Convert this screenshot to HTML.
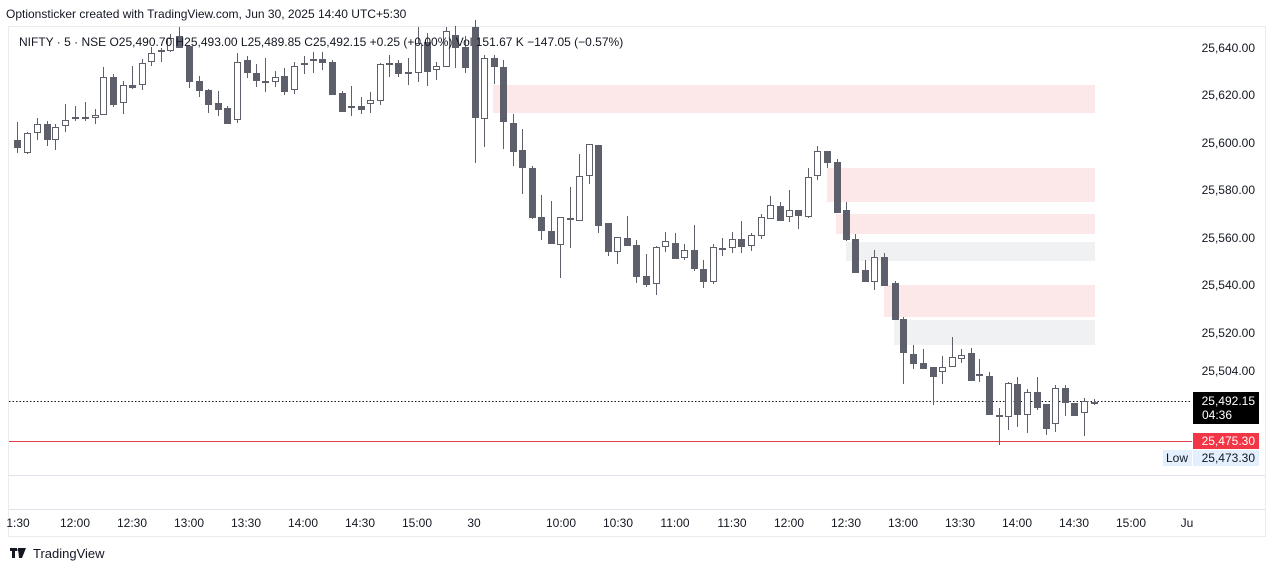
<!DOCTYPE html>
<html><head><meta charset="utf-8"><style>
html,body{margin:0;padding:0;background:#fff;width:1275px;height:572px;overflow:hidden;font-family:"Liberation Sans",sans-serif}
svg{position:absolute;left:0;top:0}
</style></head><body>
<svg id="s" width="1275" height="572" xmlns="http://www.w3.org/2000/svg" font-family="Liberation Sans, sans-serif">
<rect x="8.5" y="26.5" width="1257" height="510" fill="none" stroke="#ebebeb"/>
<line x1="9" y1="475.5" x2="1265" y2="475.5" stroke="#e0e3eb"/>
<line x1="9" y1="509.5" x2="1265" y2="509.5" stroke="#e0e3eb"/>
<text x="6" y="18" font-size="12" fill="#131722">Optionsticker created with TradingView.com, Jun 30, 2025 14:40 UTC+5:30</text>
<g fill="#fde8e9">
<rect x="493" y="85" width="602" height="28"/>
<rect x="827" y="168" width="268" height="34"/>
<rect x="836" y="214" width="259" height="20"/>
<rect x="884" y="285" width="211" height="32"/>
</g>
<g fill="#f0f1f3">
<rect x="846" y="242" width="249" height="19"/>
<rect x="894" y="320" width="201" height="25"/>
</g>
<line x1="9" y1="441.5" x2="1192" y2="441.5" stroke="#e0404a" stroke-width="1"/>
<line x1="9" y1="401.5" x2="1192" y2="401.5" stroke="#131722" stroke-dasharray="1.5 2"/>
<g id="c"></g>
<text x="19" y="46" font-size="12" fill="#131722">NIFTY · 5 · NSE  O25,490.70 H25,493.00  L25,489.85  C25,492.15  +0.25 (+0.00%)  Vol 151.67 K  −147.05 (−0.57%)</text>
<g font-size="12" fill="#131722" text-anchor="end">
<text x="1255" y="52">25,640.00</text>
<text x="1255" y="99">25,620.00</text>
<text x="1255" y="147">25,600.00</text>
<text x="1255" y="194">25,580.00</text>
<text x="1255" y="242">25,560.00</text>
<text x="1255" y="289">25,540.00</text>
<text x="1255" y="337">25,520.00</text>
<text x="1255" y="375">25,504.00</text>
</g>
<rect x="1193" y="392" width="66" height="32" fill="#000"/>
<text x="1255" y="405" font-size="12" fill="#fff" text-anchor="end">25,492.15</text>
<text x="1202" y="419" font-size="12" fill="#fff">04:36</text>
<rect x="1193" y="433" width="66" height="16" fill="#f23645"/>
<text x="1255" y="445" font-size="12" fill="#fff" text-anchor="end">25,475.30</text>
<rect x="1163" y="450" width="29" height="16" fill="#e3effd"/>
<rect x="1193" y="450" width="66" height="16" fill="#e3effd"/>
<text x="1166" y="462" font-size="12" fill="#131722">Low</text>
<text x="1255" y="462" font-size="12" fill="#131722" text-anchor="end">25,473.30</text>
<g font-size="12" fill="#131722" text-anchor="middle">
<text x="18" y="527">1:30</text><text x="75" y="527">12:00</text><text x="132" y="527">12:30</text>
<text x="189" y="527">13:00</text><text x="246" y="527">13:30</text><text x="303" y="527">14:00</text>
<text x="360" y="527">14:30</text><text x="417" y="527">15:00</text><text x="474" y="527">30</text>
<text x="561" y="527">10:00</text><text x="618" y="527">10:30</text><text x="675" y="527">11:00</text>
<text x="732" y="527">11:30</text><text x="789" y="527">12:00</text><text x="846" y="527">12:30</text>
<text x="903" y="527">13:00</text><text x="960" y="527">13:30</text><text x="1017" y="527">14:00</text>
<text x="1074" y="527">14:30</text><text x="1131" y="527">15:00</text><text x="1187" y="527">Ju</text>
</g>
<g fill="#131722"><rect x="10" y="548" width="7" height="3"/><rect x="12" y="548" width="3" height="10"/><path d="M18 548h8l-4 10h-3z"/><circle cx="19" cy="550" r="1.5"/></g>
<text x="33" y="558" font-size="13" fill="#131722">TradingView</text>
</svg>
<script>
var d=[
[17,1,140,148,122,153],[27,0,133,153,132,154],[37,0,124,133,118,140],[47,1,124,140,121,146],[55,0,127,140,124,150],
[65,0,120,126,104,132],[75,1,117,118,106,121],[85,1,117,118,102,121],[95,0,115,118,109,124],[103,0,77,115,67,115],
[113,1,77,105,74,107],[123,0,85,103,81,114],[132,1,85,88,66,89],[142,0,63,85,59,90],[151,0,53,62,47,66],
[161,0,50,52,48,62],[170,0,38,51,34,52],[179,1,36,48,27,48],[189,1,46,82,46,88],[199,1,81,91,76,97],
[208,1,90,105,89,113],[218,1,103,110,91,116],[227,1,108,124,106,124],[237,0,62,120,53,123],[247,1,60,73,56,78],
[256,1,73,81,64,87],[265,1,81,83,58,92],[275,0,77,82,71,87],[284,1,76,92,68,95],[294,0,66,90,62,94],
[304,1,63,64,56,74],[313,0,59,60,52,73],[322,1,59,63,52,70],[332,1,62,95,60,95],[342,1,93,112,91,112],
[351,1,106,108,86,116],[361,1,106,110,97,114],[370,0,100,104,92,113],[380,0,64,101,63,105],[389,1,63,65,55,77],
[398,1,63,74,60,77],[408,1,72,74,58,85],[418,0,43,73,27,82],[427,1,42,72,33,86],[436,0,66,70,62,80],
[446,0,31,67,27,67],[455,1,35,48,26,68],[465,1,47,68,36,73],[475,1,27,118,20,163],[484,0,58,119,55,147],
[494,1,58,67,55,84],[503,1,67,122,60,149],[513,1,123,152,114,166],[522,1,150,168,129,194],[532,1,168,218,166,219],
[541,1,217,231,195,240],[551,1,231,244,201,244],[560,0,217,245,217,278],[570,1,218,220,187,248],[579,0,176,221,154,221],
[589,0,144,176,144,184],[598,1,145,226,145,233],[608,1,223,252,223,256],[617,0,237,252,237,264],[627,1,238,246,216,246],
[636,1,245,277,240,283],[646,1,276,285,254,287],[656,0,247,284,246,295],[665,0,241,247,232,252],[675,1,243,259,233,259],
[684,0,250,258,244,260],[694,1,250,269,225,271],[703,1,269,282,260,288],[713,0,247,282,244,284],[722,1,248,250,238,256],
[732,0,239,248,232,253],[741,1,239,247,221,253],[751,0,235,246,233,251],[761,0,217,236,214,239],[770,0,205,219,196,219],
[780,1,206,221,202,221],[789,0,210,217,190,222],[798,1,210,216,210,229],[808,0,177,217,168,218],[817,0,151,176,146,180],
[827,1,151,163,151,168],[837,1,162,213,159,213],[846,1,210,240,202,241],[855,1,239,273,234,273],[865,1,270,282,260,282],
[874,0,257,282,250,290],[884,1,257,286,253,286],[895,1,283,320,281,320],[903,1,319,353,317,384],[913,1,354,364,345,369],
[923,1,363,369,349,369],[933,1,367,377,367,405],[942,0,367,372,356,384],[952,0,357,367,337,367],[961,0,355,359,349,363],
[971,1,353,381,348,381],[979,0,374,376,359,382],[989,1,376,415,372,415],[999,1,415,417,408,445],[1008,0,383,417,382,430],
[1017,1,384,415,377,427],[1027,0,392,415,389,433],[1037,1,392,408,377,410],[1046,1,404,429,404,435],[1055,0,388,424,385,432],
[1065,1,388,403,385,416],[1074,1,403,416,403,416],[1084,0,401,413,398,436],[1094,0,402,404,399,405]];
var g=document.getElementById('c'),h='',col='#5d606b';
d.forEach(function(c){var x=c[0];
h+='<line x1="'+(x+.5)+'" y1="'+c[4]+'" x2="'+(x+.5)+'" y2="'+c[5]+'" stroke="'+col+'"/>';
var bh=Math.max(c[3]-c[2],2);
if(c[1])h+='<rect x="'+(x-3)+'" y="'+c[2]+'" width="7" height="'+bh+'" fill="'+col+'"/>';
else h+='<rect x="'+(x-2.5)+'" y="'+(c[2]+.5)+'" width="6" height="'+(bh-1<1?1:bh-1)+'" fill="#fff" stroke="'+col+'"/>';});
g.innerHTML=h;
</script>
</body></html>
